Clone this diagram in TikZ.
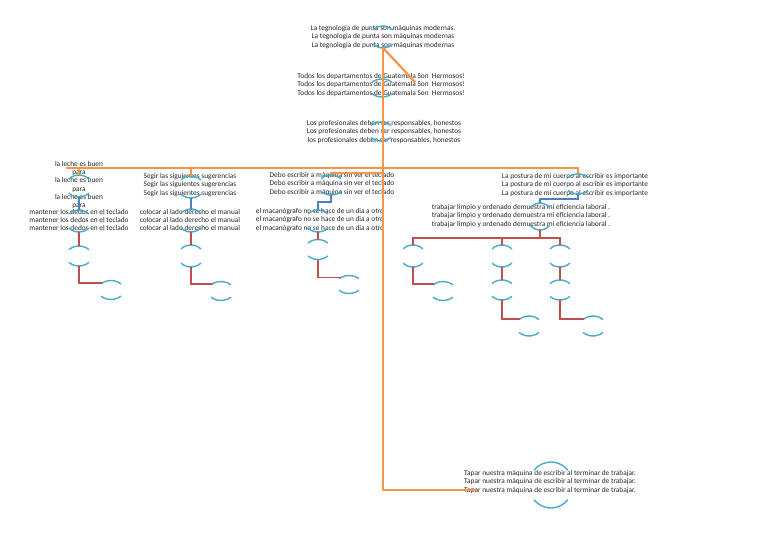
\documentclass[tikz,border=0pt]{standalone}
\usepackage{fontspec}
\setmainfont{Carlito}
\usetikzlibrary{shapes.geometric,calc}
\definecolor{arcblue}{HTML}{4BACC6}
\definecolor{conblue}{HTML}{4F81BD}
\definecolor{conred}{HTML}{C0504D}
\definecolor{conorange}{HTML}{F79646}
\tikzset{
  blob/.style={ellipse, draw=none, inner sep=0pt, outer sep=0pt},
  arcline/.style={draw=arcblue, line width=1.4pt},
  txt/.style={align=center, inner sep=0pt, text=black!85, font=\fontsize{7.35}{8.2}\selectfont},
  orangec/.style={draw=conorange, line width=2.2pt},
  bluec/.style={draw=conblue, line width=1.7pt},
  redc/.style={draw=conred, line width=1.8pt},
}
\newcommand\mkblob[5]{%
  \node[blob, minimum width={2*#4pt}, minimum height={2*#5pt}] (#1) at (#2,-#3) {};
  \draw[arcline] (#1.center) ++(140:#4pt and #5pt) arc[start angle=140,end angle=40,x radius=#4pt,y radius=#5pt];
  \draw[arcline] (#1.center) ++(220:#4pt and #5pt) arc[start angle=220,end angle=320,x radius=#4pt,y radius=#5pt];
}
\begin{document}
\begin{tikzpicture}[x=1pt,y=1pt]
\fill[white] (0,0) rectangle (768,-543);
\useasboundingbox (0,0) rectangle (768,-543);

% texts
\node[txt] (tR) at (383,-37) {La tegnologia de punta son máquinas modernas.\\La tegnologia de punta son máquinas modernas\\La tegnologia de punta son máquinas modernas};
\node[txt] (tA1) at (381,-85) {Todos los departamentos de Guatemala Son\ \ Hermosos!\\Todos los departamentos de Guatemala Son\ \ Hermosos!\\Todos los departamentos de Guatemala Son\ \ Hermosos!};
\node[txt] (tA2) at (384,-132) {Los profesionales deben ser responsables, honestos\\Los profesionales deben ser responsables, honestos\\los profesionales deben ser responsables, honestos};
\node[txt] (tB1) at (79,-185) {la leche es buen\\para\\la leche es buen\\para\\la leche es buen\\para};
\node[txt] (tB1c) at (79,-220) {mantener los dedos en el teclado\\mantener los dedos en el teclado\\mantener los dedos en el teclado};
\node[txt] (tB2) at (190,-185) {Segir las siguientes sugerencias\\Segir las siguientes sugerencias\\Segir las siguientes sugerencias};
\node[txt] (tB2c) at (190,-220) {colocar al lado derecho el manual\\colocar al lado derecho el manual\\colocar al lado derecho el manual};
\node[txt] (tB3) at (332,-184) {Debo escribir a máquina sin ver el teclado\\Debo escribir a máquina sin ver el teclado\\Debo escribir a máquina sin ver el teclado};
\node[txt] (tB3c) at (320,-220) {el macanógrafo no se hace de un dia a otro\\el macanógrafo no se hace de un dia a otro\\el macanógrafo no se hace de un dia a otro};
\node[txt] (tB4) at (575,-185) {La postura de mi cuerpo al escribir es importante\\La postura de mi cuerpo al escribir es importante\\La postura de mi cuerpo al escribir es importante};
\node[txt] (tB4c) at (521,-216) {trabajar limpio y ordenado demuestra mi eficiencia laboral .\\trabajar limpio y ordenado demuestra mi eficiencia laboral .\\trabajar limpio y ordenado demuestra mi eficiencia laboral .};
\node[txt] (tT) at (550,-482) {Tapar nuestra máquina de escribir al terminar de trabajar.\\Tapar nuestra máquina de escribir al terminar de trabajar.\\Tapar nuestra máquina de escribir al terminar de trabajar.};

% blobs (name, x, screen y, xr, yr)
\mkblob{R}{383}{37}{13}{11}
\mkblob{A1}{382}{88}{13}{9}
\mkblob{A2}{381}{131.5}{13}{9.5}
\mkblob{B1}{79}{186}{13}{11}
\mkblob{B1c}{79}{221}{13}{11}
\mkblob{B1e}{79}{256}{13}{10}
\mkblob{B1f}{111}{290}{13}{9.5}
\mkblob{B2}{191}{187}{13}{11}
\mkblob{B2c}{191}{220.5}{13}{11.5}
\mkblob{B2e}{191}{256}{13}{11}
\mkblob{B2f}{221}{291}{13}{9.5}
\mkblob{B3}{331}{185}{13}{10}
\mkblob{B3c}{318}{221}{13}{11}
\mkblob{B3e}{318}{249.5}{13}{10}
\mkblob{B3f}{349}{284.5}{13}{9}
\mkblob{B4}{578}{184}{13}{10}
\mkblob{B4c}{540}{216.5}{13}{13.5}
\mkblob{C1}{413}{256}{13}{11}
\mkblob{C2}{502}{256}{13}{11}
\mkblob{C3}{560}{256}{13}{11}
\mkblob{C2b}{502}{290}{13}{10}
\mkblob{C3b}{560}{290}{13}{10}
\mkblob{D1}{443}{291}{13}{9.5}
\mkblob{D2}{529}{326}{13}{10}
\mkblob{D3}{593}{326}{13}{10}
\mkblob{T}{551}{485}{22}{23}

% free ends
\coordinate (diagEnd) at (415,-82);
\coordinate (trunkBar) at (383,-168);
\coordinate (barLeft) at (66,-168);
\coordinate (trunkEnd) at (477,-490);

% orange connectors
\draw[orangec] (R.south) -- (trunkBar) |- (trunkEnd);
\draw[orangec] (R.south) -- (diagEnd);
\draw[orangec] (trunkBar) -- (barLeft);
\draw[orangec] (trunkBar) -| (B1.north);
\draw[orangec] (trunkBar) -| (B2.north);
\draw[orangec] (trunkBar) -| (B4.north);
\draw[orangec] ([yshift=-5pt]trunkBar) -| (B3.north);

% blue connectors
\draw[bluec] (B1.south) -- (B1c.north);
\draw[bluec] (B2.south) -- (B2c.north);
\draw[bluec] (B3.south) -- ++(0,-7) -| (B3c.north);
\draw[bluec] (B4.south) -- ++(0,-5) -| (B4c.north);

% red connectors
\draw[redc] (B1c.south) -- (B1e.north);
\draw[redc] (B1e.south) |- (B1f.140);
\draw[redc] (B2c.south) -- (B2e.north);
\draw[redc] (B2e.south) |- (B2f.140);
\draw[redc] (B3c.south) -- (B3e.north);
\draw[redc] (B3e.south) |- (B3f.140);
\draw[redc] (B4c.south) -- ++(0,-8) -| (C1.north);
\draw[redc] (B4c.south) -- ++(0,-8) -| (C2.north);
\draw[redc] (B4c.south) -- ++(0,-8) -| (C3.north);
\draw[redc] (C1.south) |- (D1.140);
\draw[redc] (C2.south) -- (C2b.north);
\draw[redc] (C2b.south) |- (D2.140);
\draw[redc] (C3.south) -- (C3b.north);
\draw[redc] (C3b.south) |- (D3.140);
\end{tikzpicture}
\end{document}
